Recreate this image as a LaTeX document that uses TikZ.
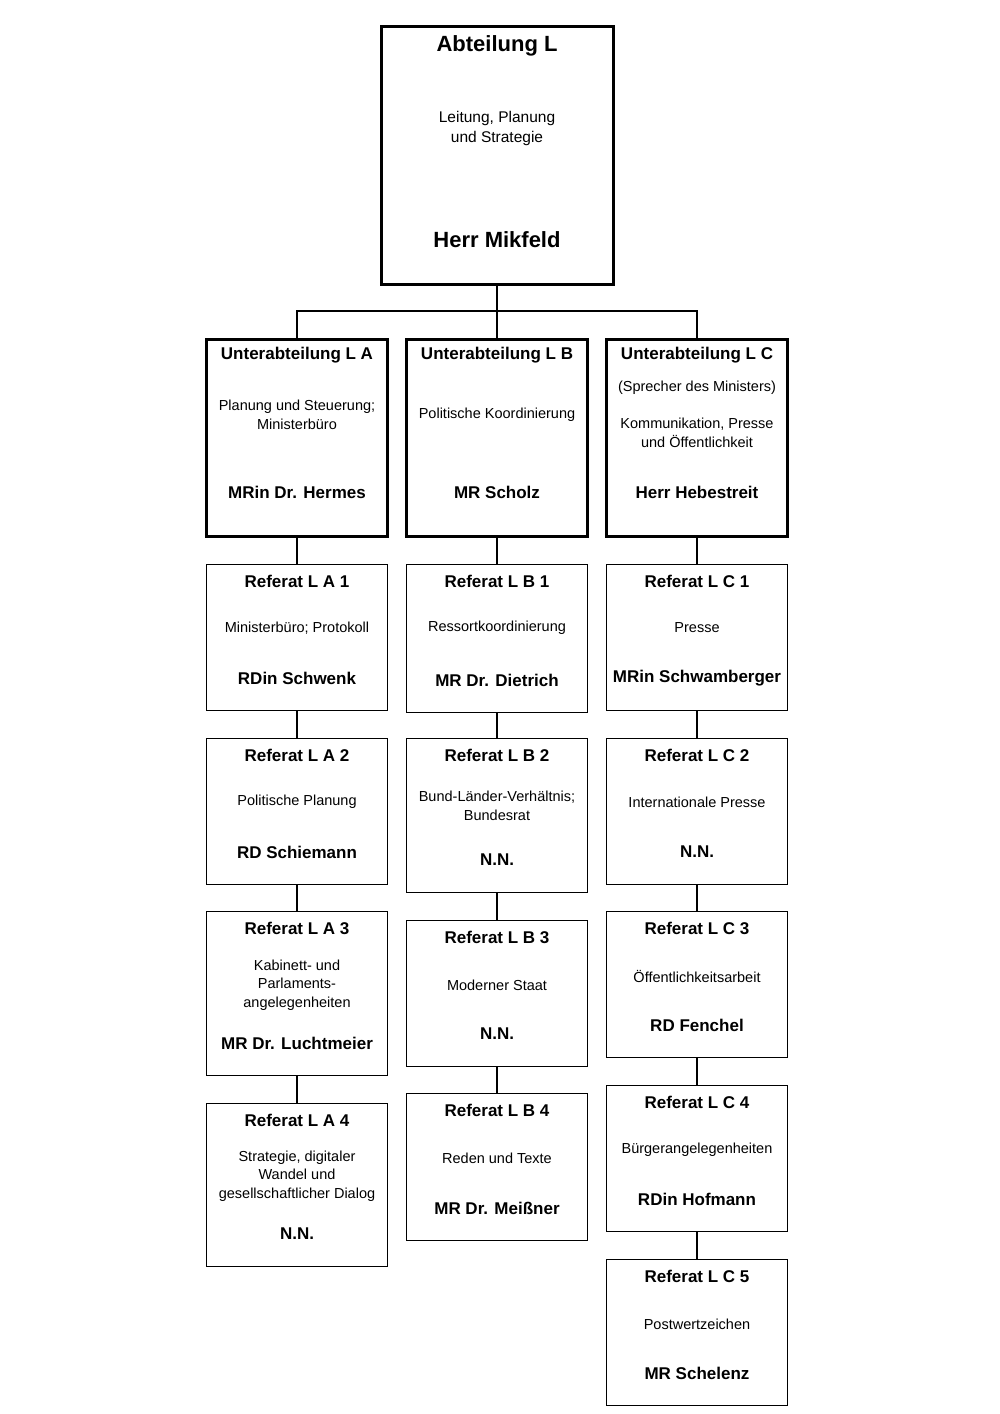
\documentclass[tikz,border=0pt]{standalone}
\usepackage{fontspec}
\setmainfont{Liberation Sans}
\tikzset{
 bx/.style={draw,line width=1.3pt,minimum width=181pt,anchor=north,inner sep=0pt},
 thickbx/.style={bx,line width=2.8pt},
 ttl/.style={font=\fontsize{17}{20}\selectfont\bfseries,inner sep=0pt},
 txt/.style={font=\fontsize{14.5}{18.5}\selectfont,align=center,inner sep=0pt},
 conn/.style={line width=1.2pt}
}
% name, cx, top, bot, title, mid, midy, person, style
\newcommand\refbox[9]{%
 \node[#9,minimum height=#4pt-#3pt] (#1) at (#2,-#3) {};
 \node[ttl] (#1t) at (#2,-#3-17) {#5};
 \node[txt] (#1m) at (#2,-#7) {#6};
 \node[ttl] (#1p) at (#2,-#4+32) {#8};
}
\begin{document}
\begin{tikzpicture}[x=1pt,y=1pt]
\useasboundingbox (0,0) rectangle (1000,-1414);
% top
\node[draw,line width=3pt,minimum width=232pt,minimum height=258pt,anchor=north] (L) at (497,-25) {};
\node[ttl,font=\fontsize{22}{26}\selectfont\bfseries] (Lt) at (497,-46) {Abteilung L};
\node[txt,font=\fontsize{15.5}{20}\selectfont] (Lm) at (497,-128) {Leitung, Planung\\und Strategie};
\node[ttl,font=\fontsize{22}{26}\selectfont\bfseries] (Lp) at (497,-240) {Herr Mikfeld};
% sub
\node[thickbx,minimum height=197pt] (LA) at (297,-338) {};
\node[ttl] (LAt) at (297,-355) {Unterabteilung L A};
\node[txt] (LAm) at (297,-415) {Planung und Steuerung;\\Ministerbüro};
\node[ttl] (LAp) at (297,-492) {MRin Dr. Hermes};
\node[thickbx,minimum height=197pt] (LB) at (497,-338) {};
\node[ttl] (LBt) at (497,-355) {Unterabteilung L B};
\node[txt] (LBm) at (497,-415) {Politische Koordinierung};
\node[ttl] (LBp) at (497,-492) {MR Scholz};
\node[thickbx,minimum height=197pt] (LC) at (697,-338) {};
\node[ttl] (LCt) at (697,-355) {Unterabteilung L C};
\node[txt] (LCs) at (697,-388) {(Sprecher des Ministers)};
\node[txt] (LCm) at (697,-433) {Kommunikation, Presse\\und Öffentlichkeit};
\node[ttl] (LCp) at (697,-492) {Herr Hebestreit};
% referate
\refbox{A1}{297}{564}{710}{Referat L A 1}{Ministerbüro; Protokoll}{628}{RDin Schwenk}{bx}
\refbox{A2}{297}{738}{884}{Referat L A 2}{Politische Planung}{802}{RD Schiemann}{bx}
\refbox{A3}{297}{911}{1075}{Referat L A 3}{Kabinett- und\\Parlaments-\\angelegenheiten}{985}{MR Dr. Luchtmeier}{bx}
\refbox{A4}{297}{1103}{1266}{Referat L A 4}{Strategie, digitaler\\Wandel und\\gesellschaftlicher Dialog}{1176}{N.N.}{bx}
\refbox{B1}{497}{564}{712}{Referat L B 1}{Ressortkoordinierung}{628}{MR Dr. Dietrich}{bx}
\refbox{B2}{497}{738}{892}{Referat L B 2}{Bund-Länder-Verhältnis;\\Bundesrat}{806}{N.N.}{bx}
\refbox{B3}{497}{920}{1066}{Referat L B 3}{Moderner Staat}{985}{N.N.}{bx}
\refbox{B4}{497}{1093}{1240}{Referat L B 4}{Reden und Texte}{1158}{MR Dr. Meißner}{bx}
\refbox{C1}{697}{564}{710}{Referat L C 1}{Presse}{628}{MRin Schwamberger}{bx}
\refbox{C2}{697}{738}{884}{Referat L C 2}{Internationale Presse}{802}{N.N.}{bx}
\refbox{C3}{697}{911}{1057}{Referat L C 3}{Öffentlichkeitsarbeit}{976}{RD Fenchel}{bx}
\refbox{C4}{697}{1085}{1231}{Referat L C 4}{Bürgerangelegenheiten}{1150}{RDin Hofmann}{bx}
\refbox{C5}{697}{1259}{1405}{Referat L C 5}{Postwertzeichen}{1324}{MR Schelenz}{bx}
% connectors
\coordinate (bus) at (497,-311);
\draw[conn] (L.south) -- (bus);
\draw[conn] (LA.north) |- (bus) -| (LC.north);
\draw[conn] (bus) -- (LB.north);
\draw[conn] (LA.south)--(A1.north) (A1.south)--(A2.north) (A2.south)--(A3.north) (A3.south)--(A4.north);
\draw[conn] (LB.south)--(B1.north) (B1.south)--(B2.north) (B2.south)--(B3.north) (B3.south)--(B4.north);
\draw[conn] (LC.south)--(C1.north) (C1.south)--(C2.north) (C2.south)--(C3.north) (C3.south)--(C4.north) (C4.south)--(C5.north);
\end{tikzpicture}
\end{document}
